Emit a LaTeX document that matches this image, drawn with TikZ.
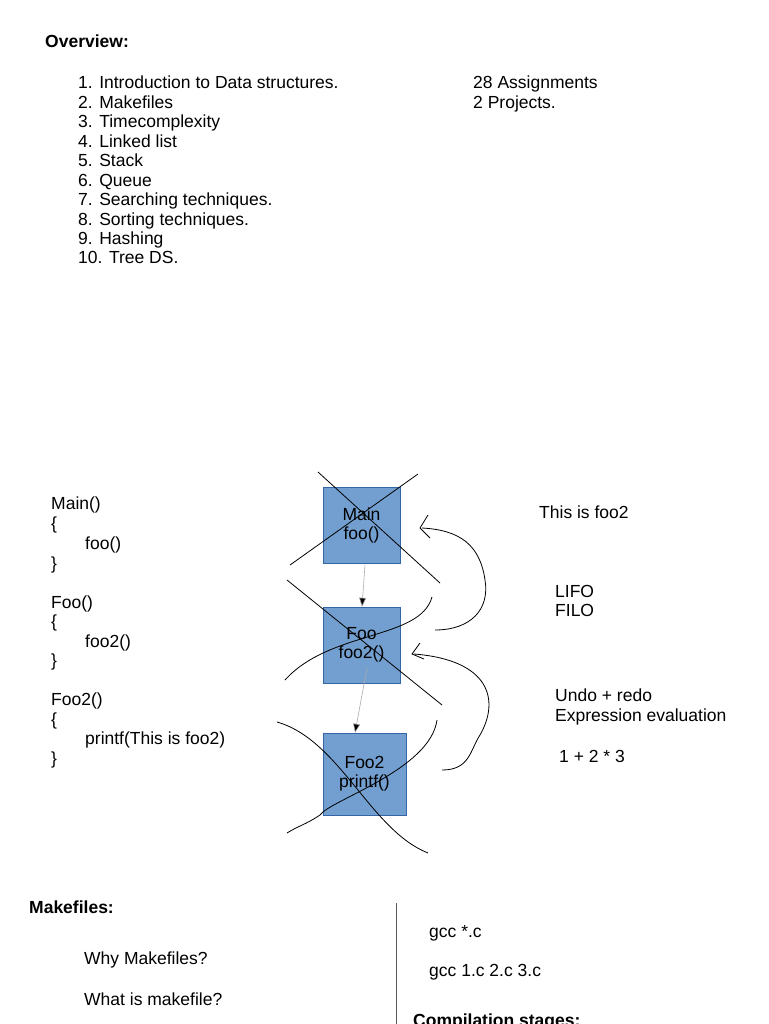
\documentclass[tikz,border=0pt]{standalone}
\usepackage{fontspec}
\setmainfont{Liberation Sans}
\usetikzlibrary{arrows.meta}

\begin{document}
\begin{tikzpicture}[x=1pt,y=-1pt,
    txt/.style={anchor=west,inner sep=0pt,font=\fontsize{17.5}{19.45}\selectfont,align=left},
    hd/.style={txt,font=\fontsize{17.5}{19.45}\selectfont\bfseries},
    box/.style={draw={rgb,255:red,52;green,101;blue,164},fill={rgb,255:red,114;green,159;blue,207},inner sep=0pt,align=center,font=\fontsize{17.5}{19}\selectfont},
    pen/.style={line width=0.8pt},
    call/.style={draw={rgb,255:red,170;green,170;blue,170},line width=0.6pt,-{Triangle[length=9pt,width=7pt,fill=black]}}]
    \useasboundingbox (0,0) rectangle (768,1024);

    % Overview
    \node[hd] (ov) at (45,41) {Overview:};
    \node[txt,anchor=north west] (topics) at (78,76) {1. Introduction to Data structures.\\2. Makefiles\\3. Timecomplexity\\4. Linked list\\5. Stack\\6. Queue\\7. Searching techniques.\\8. Sorting techniques.\\9. Hashing\\10. Tree DS.};
    \node[txt,anchor=north west] (counts) at (473,76) {28 Assignments\\2 Projects.};

    % code
    \node[txt] (c1) at (51,505) {Main()};
    \node[txt] (c2) at (51,525) {\{};
    \node[txt] (c3) at (85,545) {foo()};
    \node[txt] (c4) at (51,565) {\}};
    \node[txt] (c5) at (51,604) {Foo()};
    \node[txt] (c6) at (51,623) {\{};
    \node[txt] (c7) at (85,643) {foo2()};
    \node[txt] (c8) at (51,662) {\}};
    \node[txt] (c9) at (51,701) {Foo2()};
    \node[txt] (c10) at (51,721) {\{};
    \node[txt] (c11) at (85,740) {printf(This is foo2)};
    \node[txt] (c12) at (51,760) {\}};

    % stack frames
    \node[box,minimum width=77pt,minimum height=76pt] (mainf) at (361.5,525) {Main\\foo()};
    \node[box,minimum width=77pt,minimum height=76pt] (foof) at (361.5,645) {Foo\\foo2()};
    \node[box,minimum width=83pt,minimum height=82pt] (foo2f) at (364.5,774) {Foo2\\printf()};
    \draw[call] (365,565) -- (foof.north -| 362,0);
    \draw[call] (367,668) -- (foo2f.north -| 355,0);

    % crossings
    \draw[pen] (318,472) -- (440,583);
    \draw[pen] (418,474) -- (290,565);
    \draw[pen] (287,580) -- (442,705);
    \draw[pen] (432,597) .. controls (420,640) and (330,630) .. (285,680);
    \draw[pen] (277,722) .. controls (340,740) and (370,830) .. (428,853);
    \draw[pen] (437,720) .. controls (430,770) and (330,800) .. (320,815) .. controls (305,825) and (300,825) .. (287,833);

    % returns
    \draw[pen] (435,630) .. controls (470,630) and (490,610) .. (485,580) .. controls (480,545) and (460,530) .. (422,528);
    \draw[pen] (428,515) -- (420,528) -- (430,538);
    \draw[pen] (442,770) .. controls (470,770) and (470,750) .. (480,735) .. controls (500,700) and (490,660) .. (414,654);
    \draw[pen] (420,643) -- (412,654) -- (424,659);

    % notes
    \node[txt] (n1) at (539,512) {This is foo2};
    \node[txt,anchor=north west] (n2) at (555,585) {LIFO\\FILO};
    \node[txt,anchor=north west] (n3) at (555,689) {Undo + redo\\Expression evaluation};
    \node[txt] (n4) at (559,756) {1 + 2 * 3};

    % makefiles
    \node[hd] (mk) at (29,907) {Makefiles:};
    \node[txt] (q1) at (84,960) {Why Makefiles?};
    \node[txt] (q2) at (84,999) {What is makefile?};
    \coordinate (vt) at (396,903);
    \coordinate (vb) at (396,1024);
    \draw[line width=1pt,gray!70!black] (vt) -- (vb);
    \node[txt] (g1) at (429,933) {gcc *.c};
    \node[txt] (g2) at (429,972) {gcc 1.c 2.c 3.c};
    \node[hd] (cs) at (413,1022) {Compilation stages:};
\end{tikzpicture}
\end{document}
